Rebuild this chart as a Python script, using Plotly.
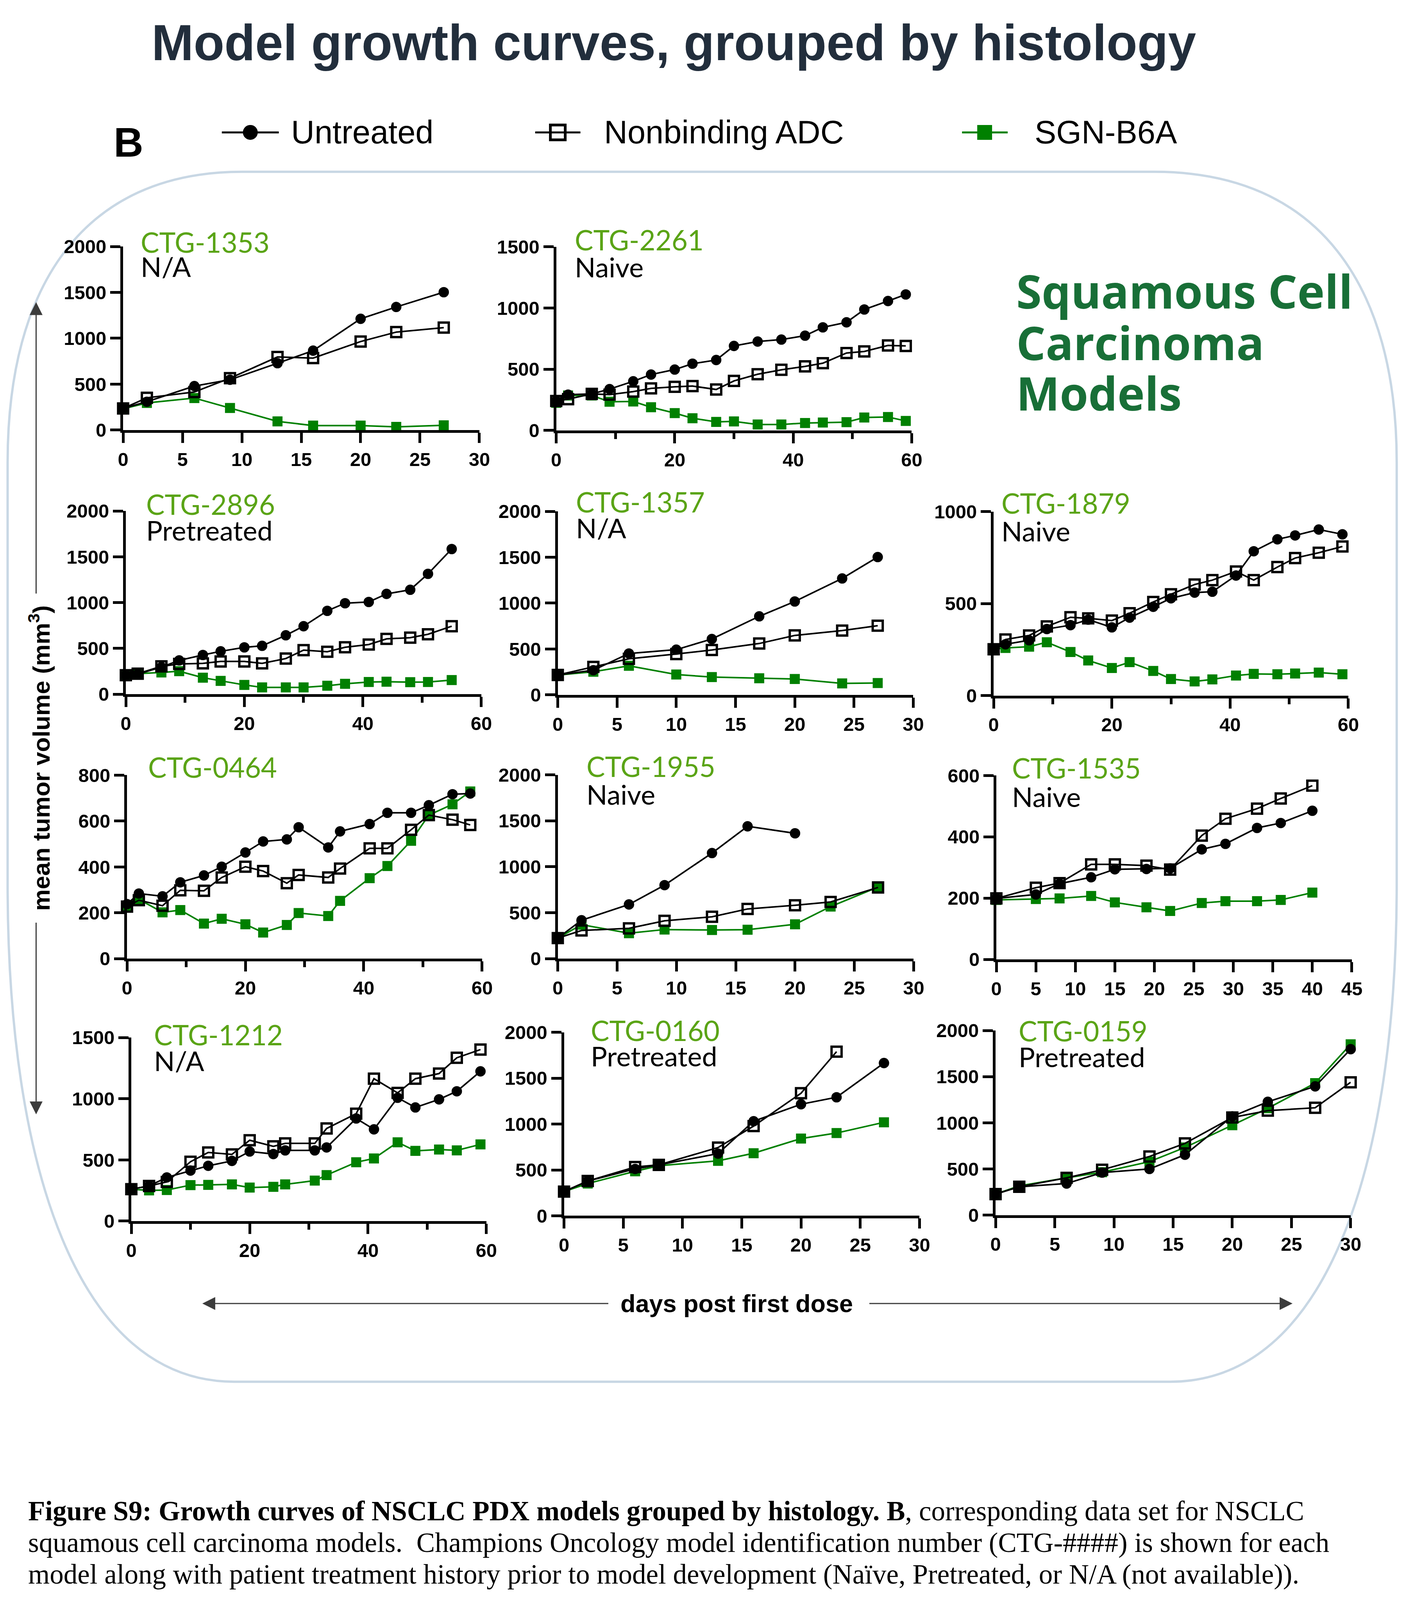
import plotly.graph_objects as go

# design coordinates follow the reference page (px); the figure fills the window
W, H = 3619, 4528
MS = 0.95  # marker scale

# ---------------- data: days post first dose / mean tumor volume (mm3)
ctg1353_days = [0, 2, 6, 9, 13, 16, 20, 23, 27]
ctg1353_untreated = [235, 308, 479, 548, 728, 865, 1212, 1341, 1502]
ctg1353_nonbinding = [235, 351, 414, 565, 796, 784, 964, 1067, 1116]
ctg1353_sgn = [231, 295, 348, 240, 94, 48, 48, 34, 51]

ctg2261_days = [0, 2, 6, 9, 13, 16, 20, 23, 27, 30, 34, 38, 42, 45, 49, 52, 56, 59]
ctg2261_untreated = [240, 292, 298, 337, 401, 456, 497, 545, 575, 690, 726, 742, 774, 842, 883, 988, 1057, 1111]
ctg2261_nonbinding = [240, 255, 298, 292, 317, 343, 356, 362, 334, 404, 459, 495, 523, 549, 632, 645, 694, 690]
ctg2261_sgn = [225, 285, 285, 234, 236, 189, 141, 99, 69, 73, 48, 48, 60, 64, 67, 105, 109, 77]

ctg2896_days = [0, 2, 6, 9, 13, 16, 20, 23, 27, 30, 34, 37, 41, 44, 48, 51, 55]
ctg2896_untreated = [207, 219, 295, 369, 428, 468, 511, 528, 643, 742, 910, 993, 1007, 1095, 1140, 1314, 1585]
ctg2896_nonbinding = [207, 224, 304, 330, 336, 357, 357, 336, 389, 481, 463, 512, 542, 604, 617, 654, 742]
ctg2896_sgn = [207, 224, 237, 251, 180, 145, 101, 74, 74, 74, 92, 113, 133, 136, 131, 133, 154]

ctg1357_days = [0, 3, 6, 10, 13, 17, 20, 24, 27]
ctg1357_untreated = [217, 269, 451, 493, 609, 856, 1018, 1269, 1502]
ctg1357_nonbinding = [217, 305, 393, 445, 489, 560, 648, 701, 754]
ctg1357_sgn = [217, 252, 317, 222, 194, 181, 173, 125, 129]

ctg1879_days = [0, 2, 6, 9, 13, 16, 20, 23, 27, 30, 34, 37, 41, 44, 48, 51, 55, 59]
ctg1879_untreated = [252, 279, 301, 362, 383, 413, 371, 424, 483, 529, 560, 565, 653, 785, 850, 871, 903, 877]
ctg1879_nonbinding = [252, 305, 327, 376, 426, 420, 408, 448, 509, 551, 604, 628, 675, 628, 699, 748, 777, 811]
ctg1879_sgn = [252, 259, 266, 290, 237, 191, 150, 182, 134, 90, 77, 88, 109, 118, 116, 120, 125, 116]

ctg0464_days = [0, 2, 6, 9, 13, 16, 20, 23, 27, 29, 34, 36, 41, 44, 48, 51, 55, 58]
ctg0464_untreated = [238, 284, 272, 333, 363, 401, 463, 511, 520, 573, 485, 555, 587, 636, 636, 669, 717, 720]
ctg0464_nonbinding = [227, 255, 231, 298, 296, 354, 401, 382, 329, 365, 354, 393, 481, 481, 562, 626, 606, 583]
ctg0464_sgn = [224, 259, 202, 212, 153, 174, 150, 114, 147, 199, 186, 252, 351, 404, 514, 626, 673, 729]

ctg1955_days = [0, 2, 6, 9, 13, 16, 20, 23, 27]
ctg1955_untreated = [224, 418, 590, 800, 1149, 1440, 1364, None, None]
ctg1955_nonbinding = [224, 307, 330, 412, 456, 541, 581, 617, 775]
ctg1955_sgn = [224, 370, 277, 317, 312, 315, 374, 567, 779]

ctg1535_days = [0, 5, 8, 12, 15, 19, 22, 26, 29, 33, 36, 40]
ctg1535_untreated = [199, 212, 247, 268, 294, 295, 297, 359, 377, 429, 445, 485]
ctg1535_nonbinding = [199, 234, 249, 310, 310, 306, 293, 404, 459, 492, 525, 567]
ctg1535_sgn = [194, 197, 199, 207, 186, 170, 158, 184, 190, 190, 194, 218]

ctg1212_days = [0, 3, 6, 10, 13, 17, 20, 24, 26, 31, 33, 38, 41, 45, 48, 52, 55, 59]
ctg1212_untreated = [261, 287, 357, 413, 452, 492, 569, 548, 578, 578, 602, 839, 750, 1008, 929, 995, 1061, 1224]
ctg1212_nonbinding = [261, 287, 320, 485, 561, 545, 661, 611, 635, 635, 757, 878, 1164, 1048, 1164, 1206, 1335, 1402]
ctg1212_sgn = [261, 251, 254, 294, 296, 300, 274, 280, 300, 331, 376, 481, 512, 644, 574, 585, 578, 627]

ctg0160_days = [0, 2, 6, 8, 13, 16, 20, 23, 27]
ctg0160_untreated = [264, 379, 511, 555, 678, 1031, 1216, 1292, 1665]
ctg0160_nonbinding = [264, 379, 532, 555, 744, 978, 1336, 1789, None]
ctg0160_sgn = [264, 352, 485, 546, 599, 682, 842, 902, 1019]

ctg0159_days = [0, 2, 6, 9, 13, 16, 20, 23, 27, 30]
ctg0159_untreated = [228, 307, 342, 461, 500, 654, 1070, 1228, 1395, 1798]
ctg0159_nonbinding = [228, 307, 404, 491, 635, 777, 1058, 1132, 1163, 1439]
ctg0159_sgn = [228, 316, 404, 465, 579, 733, 974, 1158, 1430, 1851]

model_ids = ['CTG-1353', 'CTG-2261', 'CTG-2896', 'CTG-1357', 'CTG-1879', 'CTG-0464',
             'CTG-1955', 'CTG-1535', 'CTG-1212', 'CTG-0160', 'CTG-0159']
histories = ['N/A', 'Naive', 'Pretreated', 'N/A', 'Naive', '',
             'Naive', 'Naive', 'N/A', 'Pretreated', 'Pretreated']
x_max = [30, 60, 60, 30, 60, 60, 30, 45, 60, 30, 30]
y_max = [2000, 1500, 2000, 2000, 1000, 800, 2000, 600, 1500, 2000, 2000]
y_step = [500, 500, 500, 500, 500, 200, 500, 200, 500, 500, 500]

series_names = ['Untreated', 'Nonbinding ADC', 'SGN-B6A']

panel_data = [
    (ctg1353_days, ctg1353_untreated, ctg1353_nonbinding, ctg1353_sgn),
    (ctg2261_days, ctg2261_untreated, ctg2261_nonbinding, ctg2261_sgn),
    (ctg2896_days, ctg2896_untreated, ctg2896_nonbinding, ctg2896_sgn),
    (ctg1357_days, ctg1357_untreated, ctg1357_nonbinding, ctg1357_sgn),
    (ctg1879_days, ctg1879_untreated, ctg1879_nonbinding, ctg1879_sgn),
    (ctg0464_days, ctg0464_untreated, ctg0464_nonbinding, ctg0464_sgn),
    (ctg1955_days, ctg1955_untreated, ctg1955_nonbinding, ctg1955_sgn),
    (ctg1535_days, ctg1535_untreated, ctg1535_nonbinding, ctg1535_sgn),
    (ctg1212_days, ctg1212_untreated, ctg1212_nonbinding, ctg1212_sgn),
    (ctg0160_days, ctg0160_untreated, ctg0160_nonbinding, ctg0160_sgn),
    (ctg0159_days, ctg0159_untreated, ctg0159_nonbinding, ctg0159_sgn),
]

# ---------------- layout geometry (design px)
# plot frame of each panel: left, right, top, bottom
frames = [
    (316, 1229, 688, 1209), (1426, 2337, 689, 1210),
    (323, 1234, 1439, 1959), (1430, 2341, 1440, 1961), (2547, 3456, 1441, 1963),
    (326, 1236, 2189, 2710), (1430, 2342, 2188, 2710), (2554, 3465, 2190, 2712),
    (337, 1247, 2934, 3455), (1446, 2357, 2919, 3440), (2552, 3462, 2914, 3438),
]
# label offsets: dx from left, dy of name line, dy of history line (from top)
label_pos = [
    (43, -13, 56), (45, -20, 57), (50, -20, 54), (44, -27, 46), (18, -25, 54),
    (52, -23, 0), (71, -24, 55), (38, -22, 60), (56, -9, 65), (66, -6, 67), (57, 0, 74),
]

GREEN = '#008000'
LABEL_GREEN = '#5aa416'
SANS = 'Liberation Sans, Arial, sans-serif'
CALI = 'Lato, Carlito, Noto Sans, sans-serif'

# small correction for the inset of the page in the screenshot
OFF, SCL = 0.004, 0.99


def px(x):
    return (x / W - OFF) / SCL


def py(y):
    return 1 - (y / H - OFF) / SCL


def note(x, y, text, font, xanchor='center', yanchor='middle', **kw):
    d = dict(x=px(x), y=py(y), xref='paper', yref='paper', text=text, showarrow=False,
             xanchor=xanchor, yanchor=yanchor, font=font)
    d.update(kw)
    return d


fig = go.Figure()
layout = {}
annotations = []

styles = [
    dict(line=dict(color='black', width=4), marker=dict(symbol='circle', size=28 * MS, color='black')),
    dict(line=dict(color='black', width=4),
         marker=dict(symbol='square-open', size=27 * MS, color='black', line=dict(width=6, color='black'))),
    dict(line=dict(color=GREEN, width=4), marker=dict(symbol='square', size=27 * MS, color=GREEN)),
]
draw_order = [2, 1, 0]
tick_font = dict(family=SANS, size=49, color='black', weight='bold')

for i, (days, unt, nb, sgn) in enumerate(panel_data):
    n = i + 1
    xa = 'x' if n == 1 else 'x%d' % n
    ya = 'y' if n == 1 else 'y%d' % n
    vals = [unt, nb, sgn]
    for k in draw_order:
        fig.add_trace(go.Scatter(
            x=days, y=vals[k], mode='lines+markers', name=series_names[k],
            xaxis=xa, yaxis=ya, showlegend=False, cliponaxis=False,
            line=styles[k]['line'], marker=styles[k]['marker']))

    l, r, t, b = frames[i]
    xkey = 'xaxis' if n == 1 else 'xaxis%d' % n
    ykey = 'yaxis' if n == 1 else 'yaxis%d' % n
    xd = dict(domain=[px(l), px(r)], anchor=ya, range=[0, x_max[i]],
              showline=True, linecolor='black', linewidth=7,
              ticks='outside', ticklen=26, tickwidth=7, tickcolor='black',
              showgrid=False, zeroline=False, tickfont=tick_font)
    if x_max[i] == 60:
        xd['dtick'] = 20
        xd['minor'] = dict(dtick=10, ticks='outside', ticklen=15, tickwidth=7,
                           tickcolor='black', showgrid=False)
    else:
        xd['dtick'] = 5
    yd = dict(domain=[py(b), py(t)], anchor=xa, range=[0, y_max[i]], dtick=y_step[i],
              showline=True, linecolor='black', linewidth=7,
              ticks='outside', ticklen=26, tickwidth=7, tickcolor='black',
              showgrid=False, zeroline=False, tickfont=tick_font)
    layout[xkey] = xd
    layout[ykey] = yd

    dx, dy1, dy2 = label_pos[i]
    annotations.append(note(l + dx, t + dy1, model_ids[i],
                            dict(family=CALI, size=71, color=LABEL_GREEN), xanchor='left'))
    if histories[i]:
        annotations.append(note(l + dx, t + dy2, histories[i],
                                dict(family=CALI, size=70, color='black'), xanchor='left'))

# overlay axis in design px (covers the whole paper) for legend and arrows
layout['xaxis12'] = dict(domain=[0, 1], range=[OFF * W, (OFF + SCL) * W],
                         visible=False, fixedrange=True)
layout['yaxis12'] = dict(domain=[0, 1], range=[(OFF + SCL) * H, OFF * H],
                         visible=False, fixedrange=True)
legend_x = [(569, 642, 715, 744), (1372, 1430, 1488, 1547), (2466, 2524, 2583, 2650)]
legend_y = 364
for k, (x0, xm, x1, xt) in enumerate(legend_x):
    fig.add_trace(go.Scatter(x=[x0, x1], y=[legend_y, legend_y], mode='lines',
                             xaxis='x12', yaxis='y12', showlegend=False, hoverinfo='skip',
                             line=dict(color=styles[k]['line']['color'], width=5)))
    mk = dict(styles[k]['marker'])
    mk['size'] = 40 * MS
    if k == 1:
        mk['line'] = dict(width=7, color='black')
    fig.add_trace(go.Scatter(x=[xm], y=[legend_y], mode='markers', marker=mk,
                             xaxis='x12', yaxis='y12', showlegend=False, hoverinfo='skip'))
    annotations.append(note(xt, legend_y, series_names[k],
                            dict(family=SANS, size=83, color='black'), xanchor='left'))

# titles and text
SQ_FONT = dict(family='Open Sans, Noto Sans, sans-serif', size=118, color='#186f37', weight='bold')
annotations += [
    note(1728, 110, 'Model growth curves, grouped by histology',
         dict(family=SANS, size=129, color='#222e3c', weight='bold')),
    note(330, 392, 'B', dict(family=SANS, size=105, color='black', weight='bold')),
    note(2603, 814, 'Squamous Cell', SQ_FONT, xanchor='left'),
    note(2603, 960, 'Carcinoma', SQ_FONT, xanchor='left'),
    note(2603, 1103, 'Models', SQ_FONT, xanchor='left'),
    note(102, 2140, 'mean tumor volume (mm<sup>3</sup>)',
         dict(family=SANS, size=62, color='black', weight='bold'), textangle=-90),
    note(1888, 3689, 'days post first dose',
         dict(family=SANS, size=63, color='black', weight='bold')),
]

# axis arrows: head and tail in design px
ARROW = '#3c3c3c'
for hx, hy, tx, ty in [(93, 846, 93, 1675), (93, 3152, 93, 2606),
                       (519, 3689, 1561, 3689), (3313, 3689, 2227, 3689)]:
    annotations.append(dict(x=hx, y=hy, ax=tx, ay=ty, xref='x12', yref='y12',
                            axref='x12', ayref='y12', text='', showarrow=True,
                            arrowhead=2, arrowsize=2.2, arrowwidth=3, arrowcolor=ARROW))

# caption
SERIF = 'Liberation Serif, Times New Roman, serif'
caption_lines = [
    '<b>Figure S9: Growth curves of NSCLC PDX models grouped by histology. B</b>, corresponding data set for NSCLC',
    'squamous cell carcinoma models.  Champions Oncology model identification number (CTG-####) is shown for each',
    'model along with patient treatment history prior to model development (Naïve, Pretreated, or N/A (not available)).',
]
caption_y = [4278, 4368, 4458]
for line, cy in zip(caption_lines, caption_y):
    annotations.append(note(72, cy, line, dict(family=SERIF, size=71, color='black'),
                            xanchor='left', borderpad=0))

# rounded frame around the panels
L, R, T, B = 20, 3580, 476, 3911
frame_path = ' '.join([
    'M %f,%f' % (px(620), py(T)),
    'L %f,%f' % (px(2960), py(T)),
    'C %f,%f %f,%f %f,%f' % (px(3380), py(T), px(R), py(800), px(R), py(1300)),
    'L %f,%f' % (px(R), py(2500)),
    'C %f,%f %f,%f %f,%f' % (px(R), py(3300), px(3400), py(B), px(3000), py(B)),
    'L %f,%f' % (px(600), py(B)),
    'C %f,%f %f,%f %f,%f' % (px(200), py(B), px(L), py(3300), px(L), py(2500)),
    'L %f,%f' % (px(L), py(1300)),
    'C %f,%f %f,%f %f,%f' % (px(L), py(800), px(214), py(T), px(620), py(T)),
    'Z',
])

fig.update_layout(
    autosize=True,
    margin=dict(l=0, r=0, t=0, b=0),
    paper_bgcolor='white', plot_bgcolor='rgba(0,0,0,0)',
    showlegend=False,
    annotations=annotations,
    shapes=[dict(type='path', path=frame_path, xref='paper', yref='paper',
                 line=dict(color='#c8d7e4', width=6), layer='below')],
    **layout,
)

# let the figure use the whole window
fit_js = ("document.body.style.margin='0';"
          "document.documentElement.style.overflow='hidden';"
          "var gd=document.getElementById('{plot_id}');"
          "gd.style.width='100vw';gd.style.height='100vh';"
          "Plotly.Plots.resize(gd);")

fig.write_html('out.html', default_width='100%', default_height='calc(100vh - 16px)',
               config=dict(responsive=True, displayModeBar=False), post_script=fit_js)
